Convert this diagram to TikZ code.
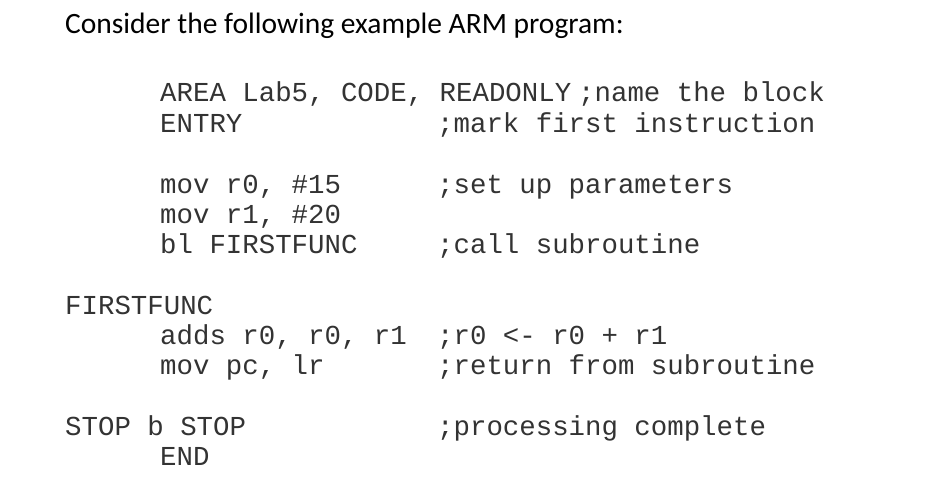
\documentclass[tikz,border=0pt]{standalone}
\usepackage{fontspec}
\newfontfamily\hfont{Carlito}
\newfontfamily\cfont{Liberation Mono}
\begin{document}
\begin{tikzpicture}[x=1pt,y=-1pt,
  code/.style={anchor=base west,inner sep=0pt,font=\cfont\fontsize{27.4}{30}\selectfont,text=black!80},
  head/.style={anchor=base west,inner sep=0pt,font=\hfont\fontsize{29.5}{32}\selectfont}]
\useasboundingbox[fill=white] (0,0) rectangle (932,487);
\node[head] (h) at (65,34) {Consider the following example ARM program:};
\node[code] (l1) at (160,101) {AREA Lab5, CODE, READONLY};
\node[code] (c1) at (578,101) {;name the block};
\node[code] (l2) at (160,132) {ENTRY};
\node[code] (c2) at (437,132) {;mark first instruction};
\node[code] (l3) at (160,193) {mov r0, \#15};
\node[code] (c3) at (437,193) {;set up parameters};
\node[code] (l4) at (160,223) {mov r1, \#20};
\node[code] (l5) at (160,253) {bl FIRSTFUNC};
\node[code] (c5) at (437,253) {;call subroutine};
\node[code] (l6) at (65,314) {FIRSTFUNC};
\node[code] (l7) at (160,344) {adds r0, r0, r1};
\node[code] (c7) at (437,344) {;r0 <- r0 + r1};
\node[code] (l8) at (160,374) {mov pc, lr};
\node[code] (c8) at (437,374) {;return from subroutine};
\node[code] (l9) at (65,435) {STOP b STOP};
\node[code] (c9) at (437,435) {;processing complete};
\node[code] (l10) at (160,465) {END};
\end{tikzpicture}
\end{document}
